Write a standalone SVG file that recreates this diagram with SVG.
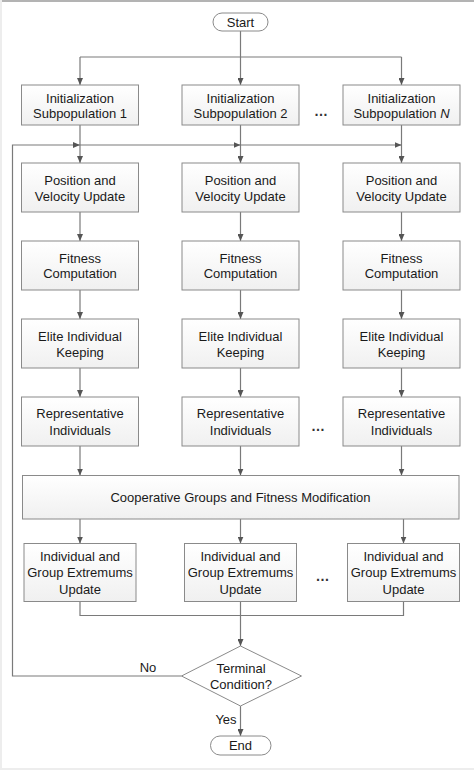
<svg xmlns="http://www.w3.org/2000/svg" width="474" height="770" viewBox="0 0 474 770">
<style>
.box{fill:url(#g);stroke:#8a8a8a;stroke-width:1}
.t{font-family:"Liberation Sans",Arial,sans-serif;font-size:13px;fill:#1a1a1a;text-anchor:middle}
.c{fill:none;stroke:#7a7a7a;stroke-width:1.2}
.d{font-family:"Liberation Sans",Arial,sans-serif;font-size:14px;font-weight:bold;fill:#333;text-anchor:middle}
</style>
<defs>
<linearGradient id="g" x1="0" y1="0" x2="0" y2="1">
<stop offset="0" stop-color="#ffffff"/>
<stop offset="1" stop-color="#f0f0f0"/>
</linearGradient>
<marker id="a" markerUnits="userSpaceOnUse" markerWidth="7" markerHeight="6" refX="7" refY="3" orient="auto">
<path d="M0,0 L7,3 L0,6 z" fill="#555"/>
</marker>
</defs>
<rect x="0" y="0" width="474" height="770" fill="#ffffff"/>
<rect x="0" y="0" width="474" height="2" fill="#b3b3b3"/>
<rect x="0" y="0" width="2" height="770" fill="#ededed"/>
<rect x="0" y="768" width="474" height="2" fill="#ededed"/>

<g id="connectors">
<path class="c" d="M240.5,31 V57"/>
<path class="c" d="M80,57 H401.5"/>
<path class="c" d="M80,57 V85" marker-end="url(#a)"/>
<path class="c" d="M240.5,57 V85" marker-end="url(#a)"/>
<path class="c" d="M401.5,57 V85" marker-end="url(#a)"/>
<path class="c" d="M80,125 V163" marker-end="url(#a)"/>
<path class="c" d="M240.5,125 V163" marker-end="url(#a)"/>
<path class="c" d="M401.5,125 V163" marker-end="url(#a)"/>
<path class="c" d="M181.5,676 H12.5 V145 H80" marker-end="url(#a)"/>
<path class="c" d="M80,145 H240.5" marker-end="url(#a)"/>
<path class="c" d="M240.5,145 H401.5" marker-end="url(#a)"/>
<path class="c" d="M80,212 V241" marker-end="url(#a)"/>
<path class="c" d="M240.5,212 V241" marker-end="url(#a)"/>
<path class="c" d="M401.5,212 V241" marker-end="url(#a)"/>
<path class="c" d="M80,290 V319" marker-end="url(#a)"/>
<path class="c" d="M240.5,290 V319" marker-end="url(#a)"/>
<path class="c" d="M401.5,290 V319" marker-end="url(#a)"/>
<path class="c" d="M80,368 V397" marker-end="url(#a)"/>
<path class="c" d="M240.5,368 V397" marker-end="url(#a)"/>
<path class="c" d="M401.5,368 V397" marker-end="url(#a)"/>
<path class="c" d="M80,446 V475.5" marker-end="url(#a)"/>
<path class="c" d="M240.5,446 V475.5" marker-end="url(#a)"/>
<path class="c" d="M401.5,446 V475.5" marker-end="url(#a)"/>
<path class="c" d="M80,519 V543.5" marker-end="url(#a)"/>
<path class="c" d="M240.5,519 V543.5" marker-end="url(#a)"/>
<path class="c" d="M403.5,519 V543.5" marker-end="url(#a)"/>
<path class="c" d="M80,601.5 V615.5 H403.5 V601.5"/>
<path class="c" d="M240.5,601.5 V646" marker-end="url(#a)"/>
<path class="c" d="M240.5,706 V736" marker-end="url(#a)"/>
<text class="t" x="148" y="671.5">No</text>
<text class="t" x="226" y="723.5">Yes</text>
</g>

<g id="start"><rect x="213" y="13" width="55" height="18" rx="9" fill="#fff" stroke="#8a8a8a"/><text class="t" x="240.5" y="26.5">Start</text></g>

<g id="init1"><rect class="box" x="21.5" y="85" width="117" height="40"/><text class="t" x="80" y="102.5">Initialization</text><text class="t" x="80" y="117.5">Subpopulation 1</text></g>
<g id="init2"><rect class="box" x="182" y="85" width="117" height="40"/><text class="t" x="240.5" y="102.5">Initialization</text><text class="t" x="240.5" y="117.5">Subpopulation 2</text></g>
<g id="initN"><rect class="box" x="343" y="85" width="117" height="40"/><text class="t" x="401.5" y="102.5">Initialization</text><text class="t" x="401.5" y="117.5">Subpopulation <tspan font-style="italic">N</tspan></text></g>
<g id="dots1"><text class="d" x="321" y="116">…</text></g>

<g id="pos1"><rect class="box" x="21.5" y="163" width="117" height="49"/><text class="t" x="80" y="184.5">Position and</text><text class="t" x="80" y="200.5">Velocity Update</text></g>
<g id="pos2"><rect class="box" x="182" y="163" width="117" height="49"/><text class="t" x="240.5" y="184.5">Position and</text><text class="t" x="240.5" y="200.5">Velocity Update</text></g>
<g id="posN"><rect class="box" x="343" y="163" width="117" height="49"/><text class="t" x="401.5" y="184.5">Position and</text><text class="t" x="401.5" y="200.5">Velocity Update</text></g>

<g id="fit1"><rect class="box" x="21.5" y="241" width="117" height="49"/><text class="t" x="80" y="262.5">Fitness</text><text class="t" x="80" y="277.5">Computation</text></g>
<g id="fit2"><rect class="box" x="182" y="241" width="117" height="49"/><text class="t" x="240.5" y="262.5">Fitness</text><text class="t" x="240.5" y="277.5">Computation</text></g>
<g id="fitN"><rect class="box" x="343" y="241" width="117" height="49"/><text class="t" x="401.5" y="262.5">Fitness</text><text class="t" x="401.5" y="277.5">Computation</text></g>

<g id="elite1"><rect class="box" x="21.5" y="319" width="117" height="49"/><text class="t" x="80" y="340.5">Elite Individual</text><text class="t" x="80" y="356.5">Keeping</text></g>
<g id="elite2"><rect class="box" x="182" y="319" width="117" height="49"/><text class="t" x="240.5" y="340.5">Elite Individual</text><text class="t" x="240.5" y="356.5">Keeping</text></g>
<g id="eliteN"><rect class="box" x="343" y="319" width="117" height="49"/><text class="t" x="401.5" y="340.5">Elite Individual</text><text class="t" x="401.5" y="356.5">Keeping</text></g>

<g id="rep1"><rect class="box" x="21.5" y="397" width="117" height="49"/><text class="t" x="80" y="418">Representative</text><text class="t" x="80" y="434.5">Individuals</text></g>
<g id="rep2"><rect class="box" x="182" y="397" width="117" height="49"/><text class="t" x="240.5" y="418">Representative</text><text class="t" x="240.5" y="434.5">Individuals</text></g>
<g id="repN"><rect class="box" x="343" y="397" width="117" height="49"/><text class="t" x="401.5" y="418">Representative</text><text class="t" x="401.5" y="434.5">Individuals</text></g>
<g id="dots2"><text class="d" x="318" y="431">…</text></g>

<g id="coop"><rect class="box" x="22.5" y="475.5" width="436.5" height="43.5"/><text class="t" x="240.5" y="501.5">Cooperative Groups and Fitness Modification</text></g>

<g id="ext1"><rect class="box" x="24" y="543.5" width="112" height="58"/><text class="t" x="80" y="560.5">Individual and</text><text class="t" x="80" y="577">Group Extremums</text><text class="t" x="80" y="593.5">Update</text></g>
<g id="ext2"><rect class="box" x="184.5" y="543.5" width="112" height="58"/><text class="t" x="240.5" y="560.5">Individual and</text><text class="t" x="240.5" y="577">Group Extremums</text><text class="t" x="240.5" y="593.5">Update</text></g>
<g id="extN"><rect class="box" x="347.5" y="543.5" width="112" height="58"/><text class="t" x="403.5" y="560.5">Individual and</text><text class="t" x="403.5" y="577">Group Extremums</text><text class="t" x="403.5" y="593.5">Update</text></g>
<g id="dots3"><text class="d" x="322.5" y="581">…</text></g>

<g id="terminal"><polygon points="240.5,646 301.5,676 240.5,706 181.5,676" fill="#fff" stroke="#8a8a8a"/><text class="t" x="241" y="672.5">Terminal</text><text class="t" x="241" y="688.5">Condition?</text></g>

<g id="end"><rect x="210.5" y="736" width="60.5" height="19" rx="9.5" fill="#fff" stroke="#8a8a8a"/><text class="t" x="240.5" y="750">End</text></g>
</svg>
